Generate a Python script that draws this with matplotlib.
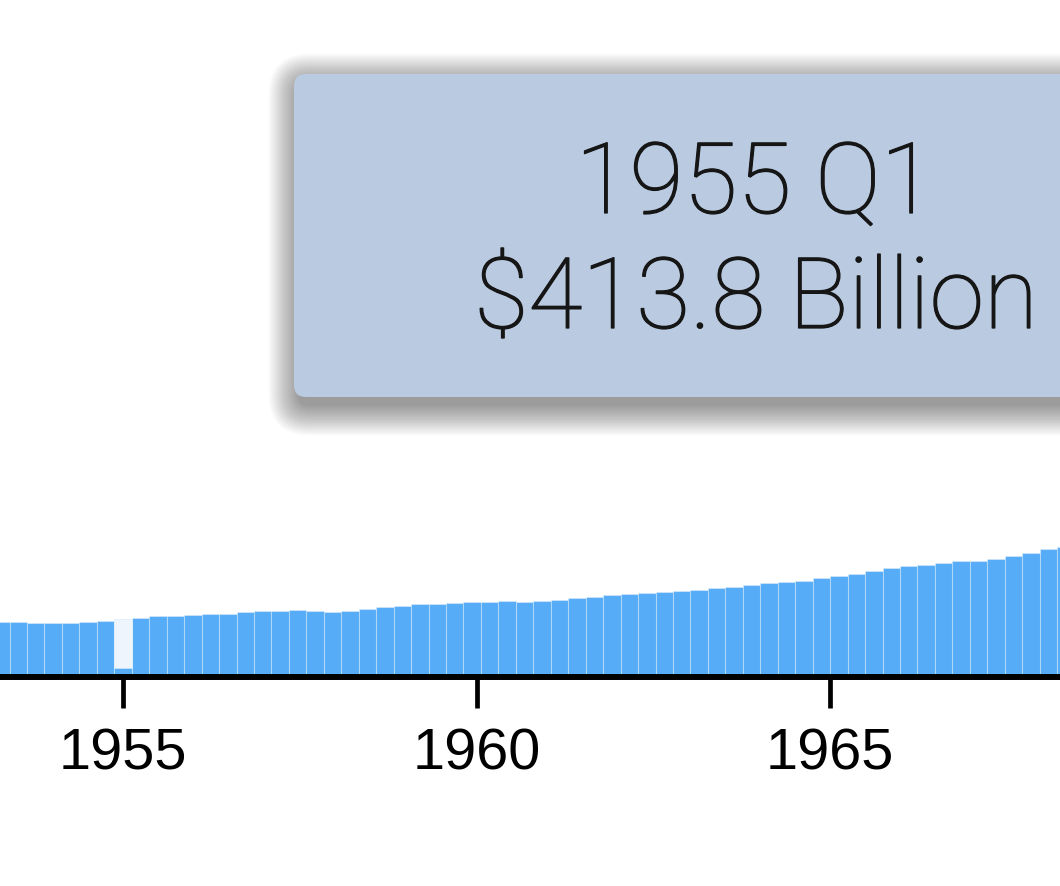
import matplotlib.pyplot as plt
import matplotlib.patheffects as pe
from matplotlib.patches import FancyBboxPatch
from matplotlib.transforms import IdentityTransform

# quarterly GDP, billions of dollars, 1953 Q2 .. 1968 Q3
quarters = [f"{y} Q{q}" for y in range(1953, 1969) for q in range(1, 5)][1:-1]
gdp = [
    393, 393, 386,
    385, 386, 391, 401,
    413.8, 423, 433, 440,
    441, 448, 451, 463,
    471, 474, 481, 476,
    469, 474, 488, 502,
    511, 524, 525, 532,
    544, 542, 548, 541,
    547, 556, 569, 581,
    595, 603, 610, 616,
    624, 633, 647, 656,
    673, 683, 694, 699,
    721, 735, 753, 775,
    797, 809, 822, 836,
    847, 851, 867, 885,
    912, 938, 955,
]
tick_years = [1955, 1960, 1965]
hover = "1955 Q1"

W, H = 1060, 886
BAR = "#56acf6"
px_val = 413.8 / 55  # billions per pixel

fig = plt.figure(figsize=(W / 100, H / 100), dpi=100)
ax = fig.add_axes([0, 212 / H, 1, 674 / H])
ax.set_ylim(0, 674 * px_val)

idx = list(range(len(gdp)))
ax.bar(idx, gdp, width=1, align="edge", color=BAR,
       edgecolor=(1, 1, 1, 0.3), linewidth=0.8)
h = quarters.index(hover)
ax.bar(h, gdp[h] - 6 * px_val, bottom=6 * px_val, width=1, align="edge",
       color="#eef5fd", edgecolor=(1, 1, 1, 0.3), linewidth=0.8)

bw = 17.46   # px per bar
x0 = 0.454   # bar index at left edge
ax.set_xlim(x0, x0 + W / bw)
ax.set_yticks([])
ax.set_xticks([])
for s in ax.spines.values():
    s.set_visible(False)


def idx2year(i):
    return 1955 + ((i - x0) * bw - 123) / 70.7


def year2idx(y):
    return (123 + (y - 1955) * 70.7) / bw + x0


sec = ax.secondary_xaxis(-3 / 674, functions=(idx2year, year2idx))
sec.set_xticks(tick_years)
sec.set_xticklabels([str(y) for y in tick_years])
sec.spines["bottom"].set_linewidth(4.3)
sec.tick_params(length=22, width=3.4, pad=14, labelsize=41.5, colors="black")
for t in sec.get_xticklabels():
    t.set_fontfamily("Liberation Sans")

# tooltip with soft drop shadow, in pixel coordinates
bx, by, bwid, bht = 294, H - 397, 924, 323
for k in range(22):
    g = k * 1.4
    fig.patches.append(FancyBboxPatch(
        (bx - g + 4, by - g - 9), bwid + 2 * g, bht + 2 * g,
        boxstyle=f"round,pad=0,rounding_size={12 + g}",
        transform=IdentityTransform(), facecolor="black",
        edgecolor="none", alpha=0.02, zorder=5))
fig.patches.append(FancyBboxPatch(
    (bx, by), bwid, bht, boxstyle="round,pad=0,rounding_size=12",
    transform=IdentityTransform(), facecolor="#bacae0",
    edgecolor="none", zorder=6))

val = gdp[h]
thicker = [pe.withStroke(linewidth=0.9, foreground="#161616")]
fig.text(755 / W, 1 - 213 / H, hover, ha="center", va="baseline",
         fontsize=71, family="Roboto", fontweight="light",
         color="#161616", zorder=7, path_effects=thicker)
fig.text(756 / W, 1 - 328 / H, f"${val:.1f} Billion", ha="center",
         va="baseline", fontsize=71, family="Roboto", fontweight="light",
         color="#161616", zorder=7, path_effects=thicker)

fig.savefig("out.png", dpi=100)
